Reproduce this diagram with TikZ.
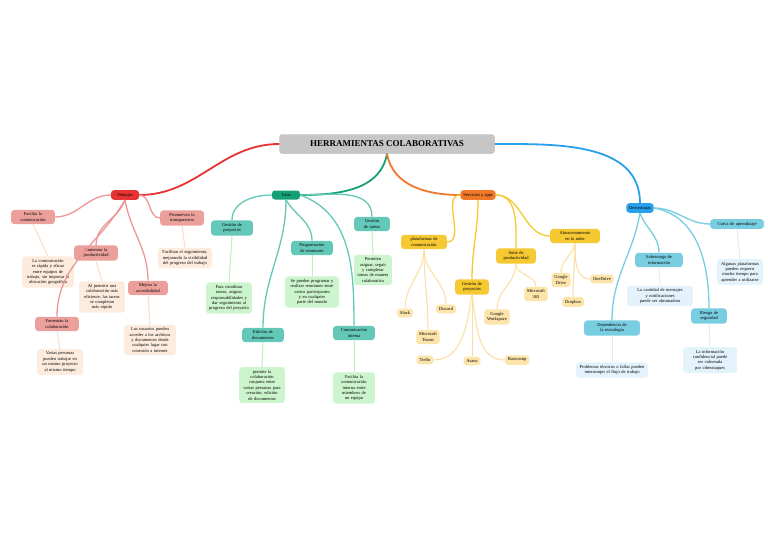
\documentclass[tikz,border=0pt]{standalone}
\usepackage{fontspec}
\setmainfont{Liberation Serif}
\hyphenpenalty=10000
\exhyphenpenalty=10000
\definecolor{cR}{RGB}{230,50,50}
\definecolor{cG}{RGB}{22,160,120}
\definecolor{cO}{RGB}{240,120,40}
\definecolor{cB}{RGB}{40,160,235}
\definecolor{rs}{RGB}{236,160,156}
\definecolor{rd}{RGB}{253,236,222}
\definecolor{gs}{RGB}{100,200,185}
\definecolor{gd}{RGB}{205,245,205}
\definecolor{ys}{RGB}{246,200,50}
\definecolor{yd}{RGB}{253,228,170}
\definecolor{bs}{RGB}{120,205,225}
\definecolor{bd}{RGB}{228,242,252}
\definecolor{lrc}{RGB}{238,150,150}
\definecolor{lrdc}{RGB}{250,220,200}
\definecolor{lgdc}{RGB}{190,240,190}
\definecolor{lydc}{RGB}{252,222,160}
\definecolor{lbdc}{RGB}{220,238,250}
\begin{document}
\begin{tikzpicture}[x=1pt,y=-1pt,
 base/.style={rounded corners=3pt,align=center,font=\fontsize{4.5}{5.4}\selectfont,inner sep=2.8pt},
 title/.style={base,fill=gray!45,draw=gray!60,font=\bfseries\fontsize{9}{10}\selectfont,minimum width=215pt,minimum height=19pt},
 redm/.style={base,fill=cR,minimum height=9pt,minimum width=28pt},
 reds/.style={base,fill=rs,text width=38pt},
 redd/.style={base,fill=rd,text width=40pt},
 grnm/.style={base,fill=cG,minimum height=9pt,minimum width=28pt},
 grns/.style={base,fill=gs,text width=36pt},
 grnd/.style={base,fill=gd,text width=40pt},
 orm/.style={base,fill=cO,minimum height=9pt},
 yls/.style={base,fill=ys,text width=40pt},
 yld/.style={base,fill=yd},
 blm/.style={base,fill=cB,minimum height=9pt},
 bls/.style={base,fill=bs,text width=42pt},
 bld/.style={base,fill=bd,text width=56pt},
 lr/.style={draw=lrc,line width=1.3pt},
 lrd/.style={draw=lrdc,line width=1pt},
 lg/.style={draw=gs,line width=1.3pt},
 lgd/.style={draw=lgdc,line width=1pt},
 ly/.style={draw=ys,line width=1.3pt},
 lyd/.style={draw=lydc,line width=1pt},
 lb/.style={draw=bs,line width=1.3pt},
 lbd/.style={draw=lbdc,line width=1pt}]
\useasboundingbox[fill=white] (0,0) rectangle (768,543);
\node[title] (T) at (387,144) {HERRAMIENTAS COLABORATIVAS};
\node[redm] (V) at (125,195) {Ventajas};
\node[grnm] (U) at (286,195) {Usos};
\node[orm] (S) at (478,195) {Servicios y apps};
\node[blm] (D) at (640,208) {Desventajas};
\draw[cR,line width=1.8pt] (T.west) to[out=180,in=0] (V.east);
\draw[cG,line width=1.8pt] (T.south) to[out=-100,in=0] (U.east);
\draw[cO,line width=1.8pt] (T.south) to[out=-80,in=180] (S.west);
\draw[cB,line width=1.8pt] (T.east) to[out=0,in=90] (D.north);
% Ventajas
\node[reds] (v1) at (33,217) {Facilita la comunicación};
\node[redd,text width=46pt] (v1d) at (48,272) {La comunicación es rápida y eficaz entre equipos de trabajo, sin importar la ubicación geográfica};
\node[reds] (v2) at (96,253) {Aumentar la productividad};
\node[redd] (v2d) at (102,297) {Al permitir una colaboración más eficiente, las tareas se completan más rápido};
\node[reds] (v3) at (57,324) {Fomentan la colaboración};
\node[redd] (v3d) at (60,362) {Varias personas pueden trabajar en un mismo proyecto al mismo tiempo};
\node[reds] (v4) at (182,218) {Promueven la transparencia};
\node[redd,text width=48pt] (v4d) at (185,258) {Facilitan el seguimiento, mejorando la visibilidad del progreso del trabajo};
\node[reds,text width=34pt] (v5) at (148,288) {Mejora la accesibilidad};
\node[redd,text width=46pt] (v5d) at (150,340) {Los usuarios pueden acceder a los archivos y documentos desde cualquier lugar con conexión a internet};
\draw[lr] (V.west) to[out=180,in=0] (v1.east);
\draw[lr] (V.south) to[out=-110,in=90] (v2.north);
\draw[lr] (V.south) to[out=-120,in=90] (v3.north);
\draw[lr] (V.east) to[out=0,in=180] (v4.west);
\draw[lr] (V.south) to[out=-80,in=90] (v5.north);
\foreach \i in {1,...,5} \draw[lrd] (v\i.south) -- (v\i d.north);
% Usos
\node[grns] (u1) at (232,228) {Gestión de proyectos};
\node[grnd] (u1d) at (229,298) {Para coordinar tareas, asignar responsabilidades y dar seguimiento al progreso del proyecto};
\node[grns] (u2) at (263,335) {Edición de documentos};
\node[grnd] (u2d) at (262,385) {permite la colaboración conjunta entre varias personas para creación, edición de documentos};
\node[grns] (u3) at (312,248) {Programación de reuniones};
\node[grnd,text width=48pt] (u3d) at (312,292) {Se pueden programar y realizar reuniones entre varios participantes y en cualquier parte del mundo};
\node[grns,text width=30pt] (u4) at (372,224) {Gestión de tareas};
\node[grnd,text width=32pt] (u4d) at (373,270) {Permiten asignar, seguir y completar tareas de manera colaborativa};
\node[grns] (u5) at (354,333) {Comunicación interna};
\node[grnd,text width=36pt] (u5d) at (354,388) {Facilita la comunicación interna entre miembros de un equipo};
\draw[lg] (U.west) to[out=180,in=90] (u1.north);
\draw[lg] (U.south) to[out=-90,in=90] (u2.north);
\draw[lg] (U.south) to[out=-60,in=90] (u3.north);
\draw[lg] (U.east) to[out=0,in=90] (u4.north);
\draw[lg] (U.east) to[out=-20,in=90] (u5.north);
\foreach \i in {1,...,5} \draw[lgd] (u\i.south) -- (u\i d.north);
% Servicios
\node[yls] (s1) at (424,242) {plataformas de comunicación};
\node[yls,text width=28pt] (s2) at (472,287) {Gestión de proyectos};
\node[yls,text width=34pt] (s3) at (516,256) {Suite de productividad};
\node[yls,text width=44pt] (s4) at (575,236) {Almacenamiento en la nube};
\draw[ly] (S.west) to[out=180,in=0] (s1.east);
\draw[ly] (S.south) to[out=-90,in=90] (s2.north);
\draw[ly] (S.east) to[out=0,in=90] (s3.north);
\draw[ly] (S.east) to[out=0,in=180] (s4.west);
\node[yld] (a1) at (405,313) {Slack};
\node[yld] (a2) at (428,337) {Microsoft\\Teams};
\node[yld] (a3) at (446,309) {Discord};
\node[yld] (b1) at (425,360) {Trello};
\node[yld] (b2) at (472,361) {Asana};
\node[yld] (b3) at (517,360) {Basecamp};
\node[yld] (c1) at (497,317) {Google\\Workspace};
\node[yld] (c2) at (536,294) {Microsoft\\365};
\node[yld] (d1) at (561,280) {Google\\Drive};
\node[yld] (d2) at (602,279) {OneDrive};
\node[yld] (d3) at (573,302) {Dropbox};
\foreach \c in {a1,a2,a3} \draw[lyd] (s1.south) to[out=-90,in=90] (\c.north);
\draw[lyd] (s2.south) to[out=-100,in=0] (b1.east);
\draw[lyd] (s2.south) -- (b2.north);
\draw[lyd] (s2.south) to[out=-80,in=180] (b3.west);
\foreach \c in {c1,c2} \draw[lyd] (s3.south) to[out=-90,in=90] (\c.north);
\draw[lyd] (s4.south) to[out=-100,in=90] (d1.north);
\draw[lyd] (s4.south) to[out=-90,in=180] (d2.west);
\draw[lyd] (s4.south) to[out=-90,in=90] (d3.north);
% Desventajas
\node[bls,text width=48pt] (w1) at (737,224) {Curva de aprendizaje};
\node[bld,text width=40pt] (w1d) at (740,272) {Algunas plataformas pueden requerir mucho tiempo para aprender a utilizarse};
\node[bls] (w2) at (659,260) {Sobrecarga de información};
\node[bld,text width=60pt] (w2d) at (660,296) {La cantidad de mensajes y notificaciones puede ser abrumadora};
\node[bls,text width=50pt] (w3) at (612,328) {Dependencia de la tecnología};
\node[bld,text width=66pt] (w3d) at (612,370) {Problemas técnicos o fallas pueden interrumpir el flujo de trabajo};
\node[bls,text width=30pt] (w4) at (709,316) {Riesgo de seguridad};
\node[bld,text width=48pt] (w4d) at (710,360) {La información confidencial puede ser vulnerada por ciberataques};
\draw[lb] (D.east) to[out=0,in=180] (w1.west);
\draw[lb] (D.south) to[out=-70,in=90] (w2.north);
\draw[lb] (D.south) to[out=-100,in=90] (w3.north);
\draw[lb] (D.east) to[out=-10,in=90] (w4.north);
\foreach \i in {1,...,4} \draw[lbd] (w\i.south) -- (w\i d.north);
\end{tikzpicture}
\end{document}
